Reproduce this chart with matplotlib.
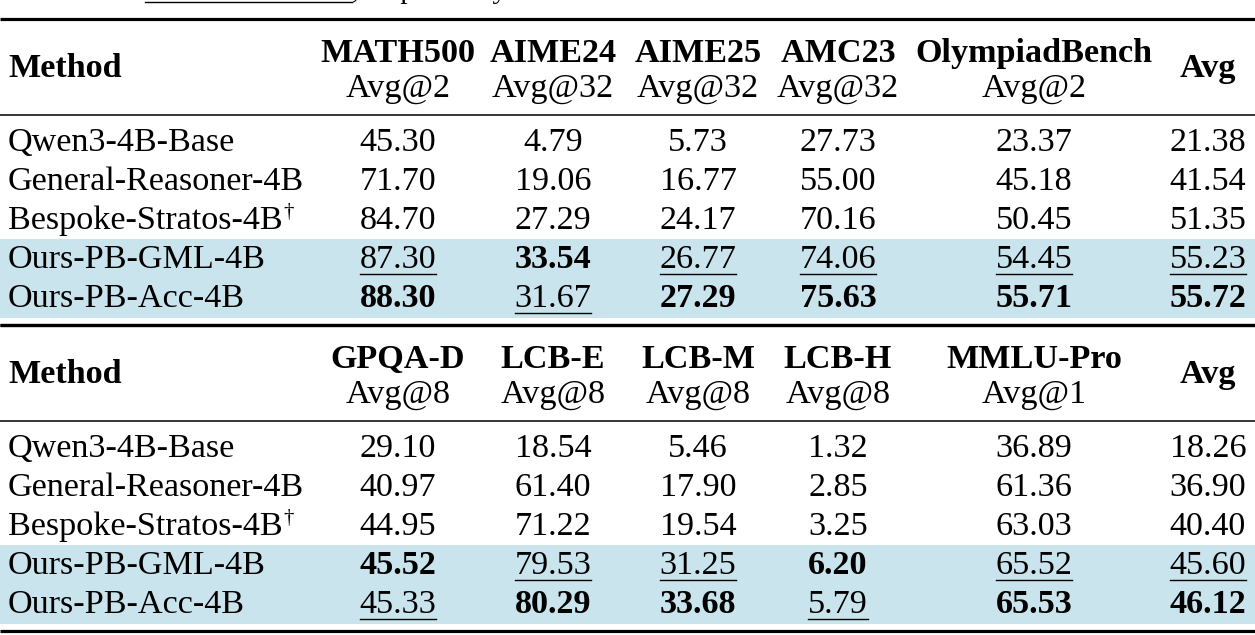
import matplotlib
matplotlib.use("Agg")
import matplotlib.pyplot as plt

# ---------------- data ----------------
methods = ["Qwen3-4B-Base", "General-Reasoner-4B", "Bespoke-Stratos-4B",
           "Ours-PB-GML-4B", "Ours-PB-Acc-4B"]
dagger_methods = ["Bespoke-Stratos-4B"]
highlight_methods = ["Ours-PB-GML-4B", "Ours-PB-Acc-4B"]

t1_benchmarks = ["MATH500", "AIME24", "AIME25", "AMC23", "OlympiadBench", "Avg"]
t1_metrics = ["Avg@2", "Avg@32", "Avg@32", "Avg@32", "Avg@2", ""]
t1_qwen = [45.30, 4.79, 5.73, 27.73, 23.37, 21.38]
t1_general = [71.70, 19.06, 16.77, 55.00, 45.18, 41.54]
t1_bespoke = [84.70, 27.29, 24.17, 70.16, 50.45, 51.35]
t1_gml = [87.30, 33.54, 26.77, 74.06, 54.45, 55.23]
t1_acc = [88.30, 31.67, 27.29, 75.63, 55.71, 55.72]

t2_benchmarks = ["GPQA-D", "LCB-E", "LCB-M", "LCB-H", "MMLU-Pro", "Avg"]
t2_metrics = ["Avg@8", "Avg@8", "Avg@8", "Avg@8", "Avg@1", ""]
t2_qwen = [29.10, 18.54, 5.46, 1.32, 36.89, 18.26]
t2_general = [40.97, 61.40, 17.90, 2.85, 61.36, 36.90]
t2_bespoke = [44.95, 71.22, 19.54, 3.25, 63.03, 40.40]
t2_gml = [45.52, 79.53, 31.25, 6.20, 65.52, 45.60]
t2_acc = [45.33, 80.29, 33.68, 5.79, 65.53, 46.12]

# ---------------- layout ----------------
W, H = 1255, 635
FONT = "Liberation Serif"
FS = 24.6
col_x = [398, 553, 698, 838, 1034, 1208]
method_x = 8
row_step = 39
band_color = "#c9e4ed"

fig = plt.figure(figsize=(W / 100, H / 100), dpi=100)
ax = fig.add_axes([0, 0, 1, 1])
ax.set_xlim(0, W)
ax.set_ylim(H, 0)
ax.axis("off")
renderer = fig.canvas.get_renderer()
inv = ax.transData.inverted()


def extent(t):
    bb = t.get_window_extent(renderer)
    (x0, _), (x1, _) = inv.transform([[bb.x0, bb.y0], [bb.x1, bb.y1]])
    return x0, x1


def hline(y, lw):
    ax.plot([0, W], [y, y], color="black", lw=lw, solid_capstyle="butt")


# cropped caption line above the table
ax.plot([145, 352], [2, 2], color="black", lw=1.0)
ax.text(352, -2, ", respectively.", fontsize=21, family=FONT, ha="left",
        va="baseline", clip_on=True)


def draw_table(y0, benchmarks, metrics, rows):
    # rules
    hline(y0, 2.3)
    hline(y0 + 96, 1.1)
    # header
    ax.text(method_x, y0 + 58, "Method", fontsize=FS, family=FONT,
            weight="bold", ha="left", va="baseline")
    for x, b, m in zip(col_x, benchmarks, metrics):
        if m:
            ax.text(x, y0 + 43, b, fontsize=FS, family=FONT, weight="bold",
                    ha="center", va="baseline")
            ax.text(x, y0 + 78, m, fontsize=FS, family=FONT,
                    ha="center", va="baseline")
        else:
            ax.text(x, y0 + 58, b, fontsize=FS, family=FONT, weight="bold",
                    ha="center", va="baseline")
    # highlight band
    first_base = y0 + 132
    hl_idx = [i for i, (name, _) in enumerate(rows) if name in highlight_methods]
    if hl_idx:
        top = first_base + hl_idx[0] * row_step - 29
        bot = first_base + hl_idx[-1] * row_step + 11
        ax.fill_between([0, W], [top, top], [bot, bot], color=band_color,
                        lw=0, zorder=0)
    # best / second best per column
    ncol = len(benchmarks)
    best, second = [], []
    for c in range(ncol):
        vals = sorted({r[1][c] for r in rows}, reverse=True)
        best.append(vals[0])
        second.append(vals[1])
    for i, (name, vals) in enumerate(rows):
        yb = first_base + i * row_step
        t = ax.text(method_x, yb, name, fontsize=FS, family=FONT,
                    ha="left", va="baseline")
        if name in dagger_methods:
            _, x1 = extent(t)
            ax.text(x1 + 1, yb - 12, "\u2020", fontsize=15, family=FONT,
                    ha="left", va="baseline")
        for c, v in enumerate(vals):
            bold = v == best[c]
            t = ax.text(col_x[c], yb, f"{v:.2f}", fontsize=FS, family=FONT,
                        weight="bold" if bold else "normal",
                        ha="center", va="baseline")
            if v == second[c]:
                x0, x1 = extent(t)
                ax.plot([x0, x1], [yb + 6, yb + 6], color="black", lw=1.0)
    hline(y0 + 306, 2.3)


rows1 = list(zip(methods, [t1_qwen, t1_general, t1_bespoke, t1_gml, t1_acc]))
rows2 = list(zip(methods, [t2_qwen, t2_general, t2_bespoke, t2_gml, t2_acc]))
draw_table(19, t1_benchmarks, t1_metrics, rows1)
draw_table(325, t2_benchmarks, t2_metrics, rows2)

fig.savefig("out.png", dpi=100)
